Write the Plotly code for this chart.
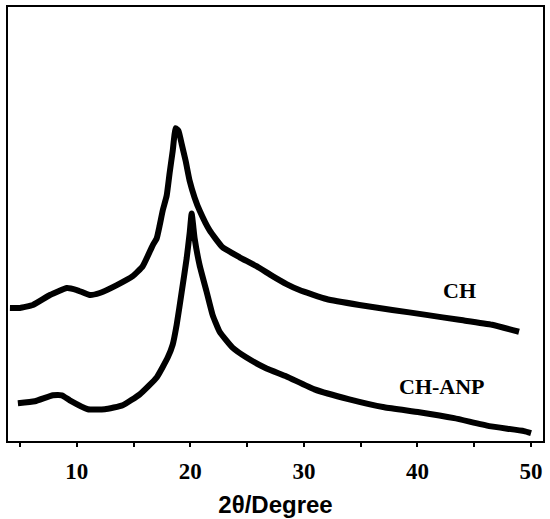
import plotly.graph_objects as go

# 2-theta (degrees) and relative intensity (arbitrary units)
ch_theta = [4.12, 5.0, 6.14, 7.64, 9.13, 10.01, 11.15, 12.03, 13.53, 14.93, 15.81,
            16.69, 17.04, 17.30, 17.57, 17.92, 18.18, 18.45, 18.71, 18.97, 19.24,
            19.59, 19.94, 20.38, 20.82, 21.70, 22.84, 24.34, 25.83, 27.24, 28.47,
            29.61, 31.98, 34.88, 37.78, 40.77, 43.67, 46.57, 48.94]
ch_int = [134, 134, 137, 147, 154, 152, 147, 149, 157, 166, 176,
          197, 204, 217, 232, 247, 270, 292, 315, 312, 299,
          282, 262, 245, 232, 212, 195, 185, 176, 166, 158,
          152, 143, 137, 132, 127, 122, 117, 110]

anp_theta = [4.82, 6.32, 7.90, 8.69, 9.39, 10.98, 12.47, 14.05, 15.55, 17.04, 18.01,
             18.45, 18.80, 19.24, 19.68, 19.94, 20.12, 20.38, 20.82, 21.44, 21.96,
             22.58, 23.72, 24.95, 26.71, 28.47, 30.93, 34.00, 37.08, 40.16, 43.23,
             46.31, 49.38, 50.0]
anp_int = [38, 40, 46, 46, 41, 32, 32, 36, 47, 64, 84,
           97, 117, 150, 184, 209, 229, 204, 177, 150, 127,
           110, 94, 84, 73, 65, 52, 42, 34, 29, 23,
           15, 10, 8]

tick_vals = [5, 10, 15, 20, 25, 30, 35, 40, 45, 50]
tick_text = ["", "10", "", "20", "", "30", "", "40", "", "50"]

labels = ["CH", "CH-ANP"]
label_x = [43.67, 42.2]
label_y = [152, 55]

fig = go.Figure()
fig.add_trace(go.Scatter(x=ch_theta, y=ch_int, mode="lines",
                         line=dict(color="black", width=6, shape="spline", smoothing=0.4),
                         showlegend=False))
fig.add_trace(go.Scatter(x=anp_theta, y=anp_int, mode="lines",
                         line=dict(color="black", width=6, shape="spline", smoothing=0.4),
                         showlegend=False))

for t, x, y in zip(labels, label_x, label_y):
    fig.add_annotation(x=x, y=y, text=t, showarrow=False,
                       font=dict(family="Liberation Serif", size=22, color="black", weight="bold"))

fig.update_layout(
    width=550, height=519,
    margin=dict(l=8, r=6, t=5, b=77),
    paper_bgcolor="white", plot_bgcolor="white",
    xaxis=dict(range=[3.95, 51.05], tickvals=tick_vals, ticktext=tick_text,
               ticks="outside", ticklen=4, tickwidth=2, tickcolor="black",
               ticklabelstandoff=4,
               showline=True, linewidth=2, linecolor="black", mirror=True,
               showgrid=False, zeroline=False,
               tickfont=dict(family="Liberation Serif", size=23, color="black", weight="bold"),
               title=dict(text="2θ/Degree", standoff=14,
                          font=dict(family="Liberation Sans", size=24, color="black", weight="bold"))),
    yaxis=dict(range=[0, 437], showticklabels=False, ticks="",
               showline=True, linewidth=2, linecolor="black", mirror=True,
               showgrid=False, zeroline=False),
)

fig.write_html("out.html", config={"displayModeBar": False},
               post_script="document.body.style.margin='0';document.body.style.overflow='hidden';")
